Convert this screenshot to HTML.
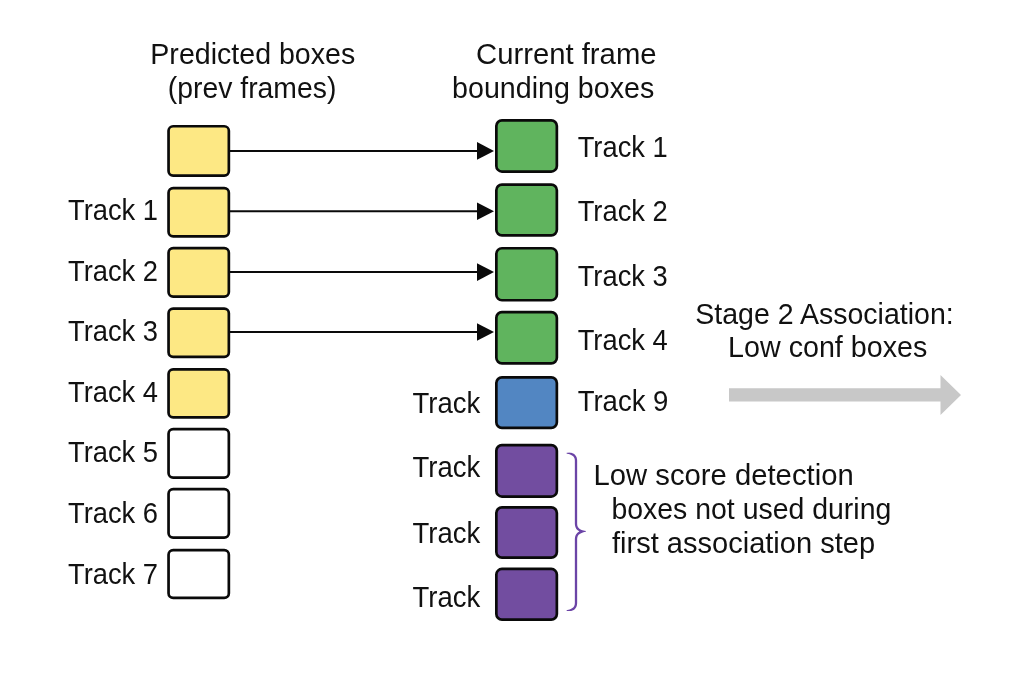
<!DOCTYPE html>
<html><head><meta charset="utf-8"><title>Track association diagram</title>
<style>
html,body{margin:0;padding:0;background:#fff;width:1024px;height:683px;overflow:hidden}
svg{position:absolute;left:0;top:0;display:block;will-change:transform}
text{font-family:"Liberation Sans",sans-serif;font-size:29.5px;fill:#111}
</style></head><body>
<svg width="1024" height="683" viewBox="0 0 1024 683">
<rect x="0" y="0" width="1024" height="683" fill="#fff"/>
<rect x="168.55" y="126.25" width="60.30" height="49.30" rx="4.6" fill="#FDE884" stroke="#0a0a0a" stroke-width="2.7"/>
<rect x="168.55" y="188.05" width="60.30" height="48.30" rx="4.6" fill="#FDE884" stroke="#0a0a0a" stroke-width="2.7"/>
<rect x="168.55" y="248.05" width="60.30" height="48.50" rx="4.6" fill="#FDE884" stroke="#0a0a0a" stroke-width="2.7"/>
<rect x="168.55" y="308.65" width="60.30" height="48.30" rx="4.6" fill="#FDE884" stroke="#0a0a0a" stroke-width="2.7"/>
<rect x="168.55" y="369.35" width="60.30" height="48.10" rx="4.6" fill="#FDE884" stroke="#0a0a0a" stroke-width="2.7"/>
<rect x="168.55" y="429.15" width="60.30" height="48.50" rx="4.6" fill="#FFFFFF" stroke="#0a0a0a" stroke-width="2.7"/>
<rect x="168.55" y="489.15" width="60.30" height="48.50" rx="4.6" fill="#FFFFFF" stroke="#0a0a0a" stroke-width="2.7"/>
<rect x="168.55" y="550.05" width="60.30" height="47.90" rx="4.6" fill="#FFFFFF" stroke="#0a0a0a" stroke-width="2.7"/>
<rect x="496.35" y="120.35" width="60.50" height="51.20" rx="5.6" fill="#60B45E" stroke="#0a0a0a" stroke-width="2.7"/>
<rect x="496.35" y="184.55" width="60.50" height="50.90" rx="5.6" fill="#60B45E" stroke="#0a0a0a" stroke-width="2.7"/>
<rect x="496.35" y="248.25" width="60.50" height="52.00" rx="5.6" fill="#60B45E" stroke="#0a0a0a" stroke-width="2.7"/>
<rect x="496.35" y="312.15" width="60.50" height="51.20" rx="5.6" fill="#60B45E" stroke="#0a0a0a" stroke-width="2.7"/>
<rect x="496.35" y="377.35" width="60.50" height="50.50" rx="5.6" fill="#5286C2" stroke="#0a0a0a" stroke-width="2.7"/>
<rect x="496.35" y="445.05" width="60.50" height="51.50" rx="5.6" fill="#724DA0" stroke="#0a0a0a" stroke-width="2.7"/>
<rect x="496.35" y="507.35" width="60.50" height="50.30" rx="5.6" fill="#724DA0" stroke="#0a0a0a" stroke-width="2.7"/>
<rect x="496.35" y="568.95" width="60.50" height="50.70" rx="5.6" fill="#724DA0" stroke="#0a0a0a" stroke-width="2.7"/>
<line x1="230" y1="150.9" x2="478" y2="150.9" stroke="#0a0a0a" stroke-width="2"/>
<polygon points="477,142.10 494,150.90 477,159.70" fill="#0a0a0a"/>
<line x1="230" y1="211.3" x2="478" y2="211.3" stroke="#0a0a0a" stroke-width="2"/>
<polygon points="477,202.50 494,211.30 477,220.10" fill="#0a0a0a"/>
<line x1="230" y1="272.1" x2="478" y2="272.1" stroke="#0a0a0a" stroke-width="2"/>
<polygon points="477,263.30 494,272.10 477,280.90" fill="#0a0a0a"/>
<line x1="230" y1="332.0" x2="478" y2="332.0" stroke="#0a0a0a" stroke-width="2"/>
<polygon points="477,323.20 494,332.00 477,340.80" fill="#0a0a0a"/>
<polygon points="729,388.2 940.5,388.2 940.5,375 961,395 940.5,415 940.5,401.6 729,401.6" fill="#C8C8C8"/>
<path d="M566.69,453.65 L567.47,453.76 L568.20,453.89 L568.88,454.04 L569.52,454.22 L570.11,454.42 L570.65,454.64 L571.15,454.88 L571.60,455.14 L572.01,455.41 L572.41,455.64 L572.77,455.90 L573.10,456.17 L573.39,456.47 L573.66,456.79 L573.90,457.13 L574.12,457.51 L574.31,457.91 L574.47,458.34 L574.60,458.80 L574.71,459.30 L574.79,459.83 L574.83,460.40 L574.85,461.00 L574.85,466.67 L574.85,472.35 L574.85,478.02 L574.85,483.69 L574.85,489.36 L574.85,495.04 L574.85,500.71 L574.85,506.38 L574.85,512.05 L574.85,517.73 L574.85,523.40 L574.87,524.14 L574.93,524.86 L575.04,525.56 L575.18,526.23 L575.37,526.87 L575.61,527.49 L575.89,528.07 L576.22,528.63 L576.60,529.15 L577.02,529.63 L577.48,530.08 L577.98,530.49 L578.52,530.86 L579.10,531.19 L579.72,531.46 L580.39,531.65 L581.08,531.79 L581.80,531.90 L582.55,531.96 L583.32,531.99 L584.12,531.98 L584.95,531.93 L585.79,531.85 L585.81,530.95 L584.99,530.84 L584.22,530.70 L583.50,530.54 L582.83,530.36 L582.20,530.15 L581.62,529.92 L581.10,529.67 L580.62,529.40 L580.17,529.16 L579.74,528.91 L579.36,528.65 L579.01,528.36 L578.69,528.06 L578.40,527.72 L578.15,527.37 L577.92,526.99 L577.72,526.57 L577.55,526.13 L577.41,525.65 L577.30,525.14 L577.22,524.60 L577.17,524.02 L577.15,523.40 L577.15,517.73 L577.15,512.05 L577.15,506.38 L577.15,500.71 L577.15,495.04 L577.15,489.36 L577.15,483.69 L577.15,478.02 L577.15,472.35 L577.15,466.67 L577.15,461.00 L577.13,460.27 L577.07,459.57 L576.97,458.90 L576.83,458.24 L576.65,457.62 L576.43,457.02 L576.16,456.44 L575.85,455.90 L575.49,455.39 L575.09,454.91 L574.65,454.47 L574.17,454.07 L573.65,453.71 L573.10,453.38 L572.49,453.15 L571.85,452.97 L571.19,452.82 L570.50,452.72 L569.79,452.65 L569.06,452.62 L568.30,452.63 L567.51,452.67 L566.71,452.75 Z M585.79,530.95 L584.95,530.87 L584.12,530.82 L583.32,530.81 L582.55,530.84 L581.80,530.90 L581.08,531.01 L580.39,531.15 L579.72,531.34 L579.10,531.61 L578.52,531.94 L577.98,532.31 L577.48,532.72 L577.02,533.17 L576.60,533.65 L576.22,534.17 L575.89,534.73 L575.61,535.31 L575.37,535.93 L575.18,536.57 L575.04,537.24 L574.93,537.94 L574.87,538.66 L574.85,539.40 L574.85,545.15 L574.85,550.91 L574.85,556.66 L574.85,562.42 L574.85,568.17 L574.85,573.93 L574.85,579.68 L574.85,585.44 L574.85,591.19 L574.85,596.95 L574.85,602.70 L574.83,603.30 L574.79,603.87 L574.71,604.40 L574.60,604.90 L574.47,605.36 L574.31,605.79 L574.12,606.19 L573.90,606.57 L573.66,606.91 L573.39,607.23 L573.10,607.53 L572.77,607.80 L572.41,608.06 L572.01,608.29 L571.60,608.56 L571.15,608.82 L570.65,609.06 L570.11,609.28 L569.52,609.48 L568.88,609.66 L568.20,609.81 L567.47,609.94 L566.69,610.05 L566.71,610.95 L567.51,611.03 L568.30,611.07 L569.06,611.08 L569.79,611.05 L570.50,610.98 L571.19,610.88 L571.85,610.73 L572.49,610.55 L573.10,610.32 L573.65,609.99 L574.17,609.63 L574.65,609.23 L575.09,608.79 L575.49,608.31 L575.85,607.80 L576.16,607.26 L576.43,606.68 L576.65,606.08 L576.83,605.46 L576.97,604.80 L577.07,604.13 L577.13,603.43 L577.15,602.70 L577.15,596.95 L577.15,591.19 L577.15,585.44 L577.15,579.68 L577.15,573.93 L577.15,568.17 L577.15,562.42 L577.15,556.66 L577.15,550.91 L577.15,545.15 L577.15,539.40 L577.17,538.78 L577.22,538.20 L577.30,537.66 L577.41,537.15 L577.55,536.67 L577.72,536.23 L577.92,535.81 L578.15,535.43 L578.40,535.08 L578.69,534.74 L579.01,534.44 L579.36,534.15 L579.74,533.89 L580.17,533.64 L580.62,533.40 L581.10,533.13 L581.62,532.88 L582.20,532.65 L582.83,532.44 L583.50,532.26 L584.22,532.10 L584.99,531.96 L585.81,531.85 Z" fill="#6B44A6"/>
<g>
<text x="150.3" y="63.8" textLength="204.95" lengthAdjust="spacingAndGlyphs">Predicted boxes</text>
<text x="167.8" y="97.8" textLength="168.59" lengthAdjust="spacingAndGlyphs">(prev frames)</text>
<text x="476.0" y="63.8" textLength="180.58" lengthAdjust="spacingAndGlyphs">Current frame</text>
<text x="452.1" y="97.8" textLength="202.13" lengthAdjust="spacingAndGlyphs">bounding boxes</text>
<text x="68.0" y="219.9" textLength="90.07" lengthAdjust="spacingAndGlyphs">Track 1</text>
<text x="68.0" y="280.6" textLength="90.07" lengthAdjust="spacingAndGlyphs">Track 2</text>
<text x="68.0" y="341.2" textLength="90.07" lengthAdjust="spacingAndGlyphs">Track 3</text>
<text x="68.0" y="401.8" textLength="90.07" lengthAdjust="spacingAndGlyphs">Track 4</text>
<text x="68.0" y="462.4" textLength="90.07" lengthAdjust="spacingAndGlyphs">Track 5</text>
<text x="68.0" y="523.0" textLength="90.07" lengthAdjust="spacingAndGlyphs">Track 6</text>
<text x="68.0" y="583.5" textLength="90.07" lengthAdjust="spacingAndGlyphs">Track 7</text>
<text x="577.7" y="157.0" textLength="90.07" lengthAdjust="spacingAndGlyphs">Track 1</text>
<text x="577.7" y="221.4" textLength="90.07" lengthAdjust="spacingAndGlyphs">Track 2</text>
<text x="577.7" y="285.8" textLength="90.07" lengthAdjust="spacingAndGlyphs">Track 3</text>
<text x="577.7" y="349.9" textLength="90.07" lengthAdjust="spacingAndGlyphs">Track 4</text>
<text x="577.7" y="410.9" textLength="90.67" lengthAdjust="spacingAndGlyphs">Track 9</text>
<text x="412.5" y="413.0" textLength="67.66" lengthAdjust="spacingAndGlyphs">Track</text>
<text x="412.5" y="477.4" textLength="67.66" lengthAdjust="spacingAndGlyphs">Track</text>
<text x="412.5" y="542.7" textLength="67.66" lengthAdjust="spacingAndGlyphs">Track</text>
<text x="412.5" y="606.8" textLength="67.66" lengthAdjust="spacingAndGlyphs">Track</text>
<text x="695.2" y="323.7" textLength="258.53" lengthAdjust="spacingAndGlyphs">Stage 2 Association:</text>
<text x="728.1" y="357.2" textLength="199.2" lengthAdjust="spacingAndGlyphs">Low conf boxes</text>
<text x="593.5" y="485.1" textLength="260.18" lengthAdjust="spacingAndGlyphs">Low score detection</text>
<text x="611.4" y="518.6" textLength="279.9" lengthAdjust="spacingAndGlyphs">boxes not used during</text>
<text x="612.0" y="552.5" textLength="263.07" lengthAdjust="spacingAndGlyphs">first association step</text>
</g>
</svg>
</body></html>
